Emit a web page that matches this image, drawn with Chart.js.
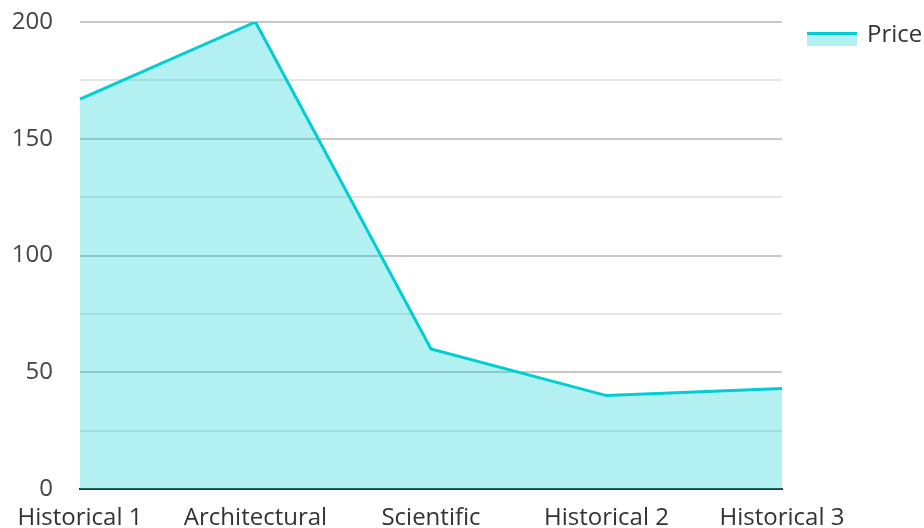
<!DOCTYPE html>
<html>
<head>
<meta charset="utf-8">
<script src="https://cdn.jsdelivr.net/npm/chart.js@4/dist/chart.umd.min.js"></script>
<style>
  html, body { margin: 0; padding: 0; background: #fff; }
  #wrap { width: 924px; height: 528px; position: relative; }
</style>
</head>
<body>
<div id="wrap"><canvas id="chart"></canvas></div>
<script>
(() => {
  // chart data
  const categories = ['Historical 1', 'Architectural', 'Scientific', 'Historical 2', 'Historical 3'];
  const priceValues = [167, 200, 60, 40, 43];
  const seriesLabel = 'Price';
  const yTickLabels = [0, 50, 100, 150, 200];

  const lineColor = '#00CED1';
  const fillColor = 'rgba(0, 206, 209, 0.3)';
  const fontFamily = '"Open Sans", sans-serif';

  // legend drawn by hand: swatch with a line on top and the fill below it
  const sideLegend = {
    id: 'sideLegend',
    afterDraw(chart) {
      const ctx = chart.ctx;
      const ds = chart.data.datasets[0];
      const x = chart.chartArea.right + 25;
      const y = 32;
      ctx.save();
      ctx.fillStyle = ds.backgroundColor;
      ctx.fillRect(x, y, 50, 14);
      ctx.strokeStyle = ds.borderColor;
      ctx.lineWidth = 3;
      ctx.beginPath();
      ctx.moveTo(x, y + 1.5);
      ctx.lineTo(x + 50, y + 1.5);
      ctx.stroke();
      ctx.fillStyle = '#333';
      ctx.font = '24px ' + fontFamily;
      ctx.textBaseline = 'middle';
      ctx.fillText(ds.label, x + 60, y + 3);
      ctx.restore();
    }
  };

  Chart.defaults.font.family = fontFamily;
  Chart.defaults.font.size = 24;
  Chart.defaults.color = '#444';

  new Chart(document.getElementById('chart').getContext('2d'), {
    type: 'line',
    data: {
      labels: categories,
      datasets: [{
        label: seriesLabel,
        data: priceValues,
        borderColor: lineColor,
        backgroundColor: fillColor,
        borderWidth: 3,
        fill: 'origin',
        tension: 0,
        pointRadius: 0,
        pointHoverRadius: 0
      }]
    },
    options: {
      responsive: true,
      maintainAspectRatio: false,
      animation: false,
      layout: { padding: { top: 0, left: 0, right: 142, bottom: 0 } },
      plugins: {
        tooltip: { enabled: false },
        legend: { display: false }
      },
      scales: {
        x: {
          offset: false,
          grid: { display: false, drawTicks: false },
          border: { display: true, color: '#333', width: 2 },
          ticks: { padding: 15, maxRotation: 0, autoSkip: false, color: '#333' },
          afterFit(scale) { scale.height = 39; }
        },
        y: {
          min: 0,
          max: 200,
          grid: {
            drawTicks: false,
            color: ctx => (ctx.tick.value % 50 === 0 ? '#c8c8c8' : '#e6e6e6'),
            lineWidth: 2
          },
          border: { display: false },
          ticks: {
            stepSize: 25,
            padding: 27,
            callback: v => (yTickLabels.includes(v) ? v : '')
          },
          afterFit(scale) {
            scale.width = 80;
            scale.paddingTop = 22;
            scale.paddingBottom = 0;
          }
        }
      }
    },
    plugins: [sideLegend]
  });
})();
</script>
</body>
</html>
